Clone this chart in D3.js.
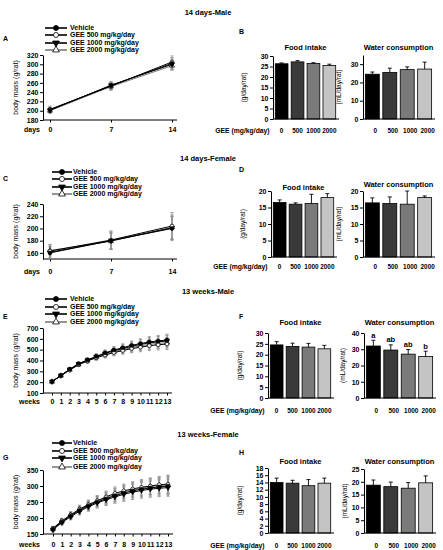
<!DOCTYPE html>
<html><head><meta charset="utf-8">
<script src="https://cdn.jsdelivr.net/npm/d3@7"></script>
<style>
body{margin:0;background:#fff}
text{font-family:"Liberation Sans",Arial,Helvetica,sans-serif}
</style></head><body>
<svg id="c" width="443" height="550"></svg>
<script>
// ---------- DATA ----------
const groupNames = ["Vehicle","GEE 500 mg/kg/day","GEE 1000 mg/kg/day","GEE 2000 mg/kg/day"];
const doses = ["0","500","1000","2000"];
const days = [0,7,14];
const weeks = [0,1,2,3,4,5,6,7,8,9,10,11,12,13];

// A: 14 days male body mass
const A_ticks = [180,200,220,240,260,280,300,320];
const A_vehicle = [202,254,302];
const A_500 = [203,253,305];
const A_1000 = [201,255,300];
const A_2000 = [200,252,297];
const A_err = [[6,8,12],[7,8,13],[6,7,11],[5,8,10]];

// B: 14 days male intake
const B_food = [26.3,27.2,26.4,25.5];
const B_foodErr = [0.4,0.6,0.4,0.6];
const B_water = [24.5,25.5,27.0,27.3];
const B_waterErr = [1.2,2.3,1.5,3.8];

// C: 14 days female body mass
const C_ticks = [160,180,200,220,240];
const C_vehicle = [160,180,200];
const C_500 = [163,181,204];
const C_1000 = [161,180,201];
const C_2000 = [164,179,202];
const C_err = [[10,14,20],[11,15,22],[10,14,18],[9,13,20]];

// D: 14 days female intake
const D_food = [16.5,16.0,16.2,18.0];
const D_foodErr = [0.8,0.4,2.8,1.2];
const D_water = [16.4,16.2,16.0,18.0];
const D_waterErr = [1.5,2.0,4.0,0.5];

// E: 13 weeks male body mass
const E_ticks = [100,200,300,400,500,600,700];
const E_vehicle = [205,262,320,370,405,438,470,497,518,540,556,572,580,590];
const E_500 = [205,258,312,360,395,425,450,473,492,510,523,537,545,552];
const E_1000 = [206,262,318,368,402,435,465,490,510,530,548,563,572,580];
const E_2000 = [204,260,315,363,398,430,457,480,500,520,535,550,558,565];
const E_err = [
  [6,8,12,16,20,24,28,32,36,40,44,48,50,52],
  [6,8,11,15,19,23,27,30,34,38,42,45,47,50],
  [6,8,12,16,20,24,28,32,36,40,44,47,50,52],
  [6,8,12,15,19,23,27,31,35,39,42,46,48,50]];

// F: 13 weeks male intake
const F_food = [24.5,23.8,23.5,22.7];
const F_foodErr = [1.5,1.5,1.7,1.6];
const F_water = [32.0,29.5,27.0,25.5];
const F_waterErr = [3.5,3.2,2.8,3.3];
const F_letters = ["a","ab","ab","b"];

// G: 13 weeks female body mass
const G_ticks = [150,200,250,300,350];
const G_vehicle = [165,188,207,224,238,250,260,270,278,285,290,294,297,300];
const G_500 = [168,191,210,228,242,254,266,277,285,291,296,300,304,306];
const G_1000 = [163,186,204,221,235,247,257,266,274,281,286,290,293,295];
const G_2000 = [166,189,208,226,240,252,263,273,281,288,293,298,301,303];
const G_err = [
  [6,8,10,12,14,16,18,20,22,22,24,25,26,28],
  [6,8,10,12,14,16,18,20,21,22,24,25,26,28],
  [6,8,10,12,14,16,18,20,22,23,24,25,26,27],
  [6,8,10,12,14,16,18,20,21,22,24,25,26,28]];

// H: 13 weeks female intake
const H_food = [14.0,13.8,13.1,13.8];
const H_foodErr = [1.2,0.8,1.7,1.4];
const H_water = [18.7,18.1,17.5,19.6];
const H_waterErr = [2.0,1.8,2.2,2.7];

// ---------- DRAWING ----------
const svg = d3.select("#c");
const FONT = "Liberation Sans, Arial, sans-serif";
const styles = [
  {line:"#000", fill:"#000", sym:d3.symbolCircle, rot:0},
  {line:"#000", fill:"#fff", sym:d3.symbolCircle, rot:0},
  {line:"#000", fill:"#000", sym:d3.symbolTriangle, rot:180},
  {line:"#7a7a7a", fill:"#fff", sym:d3.symbolTriangle, rot:0}
];
const barColors = ["#000000","#3a3a3a","#7a7a7a","#c4c4c4"];

function styleAxis(sel){
  sel.selectAll("path.domain").attr("stroke","#000").attr("stroke-width",1);
  sel.selectAll(".tick line").attr("stroke","#000").attr("stroke-width",1);
  sel.selectAll(".tick text").attr("font-size",7).attr("font-weight","bold")
    .attr("font-family",FONT).attr("fill","#000");
}

function txt(g,x,y,s,opt){
  opt = opt||{};
  return g.append("text").attr("x",x).attr("y",y).attr("dy","0.35em")
    .attr("text-anchor",opt.anchor||"start")
    .attr("font-size",opt.size||7).attr("font-weight",opt.weight||"bold")
    .attr("font-family",FONT).attr("fill","#000").text(s);
}

function linePanel(c){
  const g = svg.append("g");
  const x = d3.scaleLinear().domain([c.xVals[0], c.xVals[c.xVals.length-1]]).range(c.xRange);
  const y = d3.scaleLinear().domain(c.yDomain).range(c.yRange);
  const ya = g.append("g").attr("transform",`translate(${c.axisX},0)`)
    .call(d3.axisLeft(y).tickValues(c.yTicks).tickSize(3).tickPadding(1.5).tickSizeOuter(0));
  styleAxis(ya);
  const xa = g.append("g").attr("transform",`translate(0,${c.yRange[0]})`)
    .call(d3.axisBottom(x).tickValues(c.xVals).tickSize(2.5).tickPadding(c.labelY-5-c.yRange[0]).tickSizeOuter(0));
  xa.select(".domain").remove();
  styleAxis(xa);
  g.append("line").attr("x1",c.axisX).attr("x2",c.xRange[1]+5)
    .attr("y1",c.yRange[0]).attr("y2",c.yRange[0]).attr("stroke","#000").attr("stroke-width",1);

  const order = [3,2,1,0];
  order.forEach(i=>{
    const vals = c.series[i], errs = c.errs[i];
    vals.forEach((v,j)=>{
      const cx = x(c.xVals[j]);
      const e = errs[j];
      g.append("line").attr("x1",cx).attr("x2",cx).attr("y1",y(v-e)).attr("y2",y(v+e))
        .attr("stroke","#8c8c8c").attr("stroke-width",0.8);
      [v-e,v+e].forEach(t=>g.append("line").attr("x1",cx-1.6).attr("x2",cx+1.6)
        .attr("y1",y(t)).attr("y2",y(t)).attr("stroke","#8c8c8c").attr("stroke-width",0.8));
    });
  });
  order.forEach(i=>{
    g.append("path").datum(c.series[i])
      .attr("d", d3.line().x((d,j)=>x(c.xVals[j])).y(d=>y(d)))
      .attr("fill","none").attr("stroke",styles[i].line).attr("stroke-width",1);
  });
  order.forEach(i=>{
    const st = styles[i];
    c.series[i].forEach((v,j)=>{
      g.append("path").attr("d",d3.symbol().type(st.sym).size(11)())
        .attr("transform",`translate(${x(c.xVals[j])},${y(v)}) rotate(${st.rot})`)
        .attr("fill",st.fill).attr("stroke","#000").attr("stroke-width",0.7);
    });
  });
  groupNames.forEach((n,i)=>{
    const ly = c.legRows[i], st = styles[i];
    g.append("line").attr("x1",c.legLine[0]).attr("x2",c.legLine[1]).attr("y1",ly).attr("y2",ly)
      .attr("stroke",st.line).attr("stroke-width",1.6);
    g.append("path").attr("d",d3.symbol().type(st.sym).size(20)())
      .attr("transform",`translate(${c.legMarker},${ly}) rotate(${st.rot})`)
      .attr("fill",st.fill).attr("stroke","#000").attr("stroke-width",0.8);
    txt(g,c.legText,ly,n);
  });
  txt(g,40,c.labelY,c.xName,{anchor:"end"});
  txt(g,3,c.letterY,c.letter);
  txt(g,208,c.titleY,c.title,{anchor:"middle",size:7.5});
  g.append("text").attr("transform",`translate(16,${(c.yRange[0]+c.yRange[1])/2}) rotate(-90)`)
    .attr("dy","0.35em").attr("text-anchor","middle").attr("font-size",7)
    .attr("font-family",FONT).attr("fill","#000").text("body mass (g/rat)");
}

function barSub(g, p, s){
  const y = d3.scaleLinear().domain(s.domain).range(s.range);
  const x = d3.scaleBand().domain(doses).range([s.axisX+1.5, s.axisX+1.5+s.width])
    .paddingInner(0.2).paddingOuter(0.05);
  const ya = g.append("g").attr("transform",`translate(${s.axisX},0)`)
    .call(d3.axisLeft(y).tickValues(s.ticks).tickSize(3).tickPadding(1.5).tickSizeOuter(0));
  styleAxis(ya);
  const bw = x.bandwidth();
  s.vals.forEach((v,i)=>{
    const d = doses[i];
    g.append("rect").attr("x",x(d)).attr("y",y(v)).attr("width",bw).attr("height",y(0)-y(v))
      .attr("fill",barColors[i]).attr("stroke","#000").attr("stroke-width",0.8);
    const cx = x(d)+bw/2, top = y(v+s.errs[i]);
    g.append("line").attr("x1",cx).attr("x2",cx).attr("y1",y(v)).attr("y2",top)
      .attr("stroke","#000").attr("stroke-width",0.9);
    g.append("line").attr("x1",cx-2).attr("x2",cx+2).attr("y1",top).attr("y2",top)
      .attr("stroke","#000").attr("stroke-width",0.9);
    if (s.letters) txt(g,cx,top-5,s.letters[i],{anchor:"middle",size:7.5});
    txt(g,cx+s.labOff,p.labelY,d,{anchor:"middle",size:6.4});
  });
  g.append("line").attr("x1",s.axisX).attr("x2",s.axisX+s.width+4)
    .attr("y1",y(0)).attr("y2",y(0)).attr("stroke","#000").attr("stroke-width",1);
  txt(g,s.axisX+1.5+s.width/2,s.titleY,s.title,{anchor:"middle",size:7.5});
  g.append("text").attr("transform",`translate(${s.labelX},${(s.range[0]+s.range[1])/2}) rotate(-90)`)
    .attr("dy","0.35em").attr("text-anchor","middle").attr("font-size",6.5)
    .attr("font-family",FONT).attr("fill","#000").text(s.ylab);
  return x;
}

function barPanel(p){
  const g = svg.append("g");
  txt(g,239,p.letterY,p.letter);
  const xf = barSub(g,p,Object.assign({title:"Food intake",ylab:"(g/day/rat)",width:62,labOff:0},p.food));
  barSub(g,p,Object.assign({title:"Water consumption",ylab:"(mL/day/rat)",width:68,labOff:3},p.water));
  txt(g,xf(doses[0])+xf.bandwidth()/2-12,p.labelY,"GEE (mg/kg/day)",{anchor:"end",size:6.8});
}

linePanel({title:"14 days-Male",titleY:12,letter:"A",letterY:39,xName:"days",
  xVals:days,xRange:[50,172],yDomain:[180,320],yRange:[120,55],yTicks:A_ticks,axisX:43,labelY:130,
  series:[A_vehicle,A_500,A_1000,A_2000],errs:A_err,
  legRows:[28,35,43,50],legLine:[45,67],legMarker:56,legText:70});
barPanel({letter:"B",letterY:32,labelY:131,
  food:{vals:B_food,errs:B_foodErr,axisX:273,domain:[0,30],range:[119,56],ticks:[0,5,10,15,20,25,30],labelX:244,titleY:47},
  water:{vals:B_water,errs:B_waterErr,axisX:363,domain:[0,35],range:[119,55],ticks:[0,10,20,30],labelX:339,titleY:47}});

linePanel({title:"14 days-Female",titleY:158,letter:"C",letterY:179,xName:"days",
  xVals:days,xRange:[50,172],yDomain:[150,240],yRange:[259,204],yTicks:C_ticks,axisX:43,labelY:272,
  series:[C_vehicle,C_500,C_1000,C_2000],errs:C_err,
  legRows:[172,179,187,194],legLine:[52,72],legMarker:62,legText:73});
barPanel({letter:"D",letterY:170,labelY:267,
  food:{vals:D_food,errs:D_foodErr,axisX:271,domain:[0,20],range:[257,191],ticks:[0,5,10,15,20],labelX:243,titleY:187},
  water:{vals:D_water,errs:D_waterErr,axisX:363,domain:[0,20],range:[257,191],ticks:[0,5,10,15,20],labelX:339,titleY:184}});

linePanel({title:"13 weeks-Male",titleY:291,letter:"E",letterY:317,xName:"weeks",
  xVals:weeks,xRange:[52,167],yDomain:[100,700],yRange:[393,328],yTicks:E_ticks,axisX:43,labelY:402,
  series:[E_vehicle,E_500,E_1000,E_2000],errs:E_err,
  legRows:[299,307,314,322],legLine:[45,67],legMarker:56,legText:70});
barPanel({letter:"F",letterY:317,labelY:411,
  food:{vals:F_food,errs:F_foodErr,axisX:268,domain:[0,30],range:[398,333],ticks:[0,5,10,15,20,25,30],labelX:240,titleY:322},
  water:{vals:F_water,errs:F_waterErr,axisX:364,domain:[0,40],range:[398,333],ticks:[0,10,20,30,40],labelX:343,titleY:322,letters:F_letters}});

linePanel({title:"13 weeks-Female",titleY:434,letter:"G",letterY:458,xName:"weeks",
  xVals:weeks,xRange:[53,168],yDomain:[150,350],yRange:[534,470],yTicks:G_ticks,axisX:43,labelY:545,
  series:[G_vehicle,G_500,G_1000,G_2000],errs:G_err,
  legRows:[443,451,458,467],legLine:[52,72],legMarker:62,legText:73});
barPanel({letter:"H",letterY:453,labelY:546,
  food:{vals:H_food,errs:H_foodErr,axisX:268,domain:[0,18],range:[533,468],ticks:[0,2,4,6,8,10,12,14,16,18],labelX:240,titleY:461},
  water:{vals:H_water,errs:H_waterErr,axisX:364,domain:[0,25],range:[533,469],ticks:[0,5,10,15,20,25],labelX:345,titleY:461}});
</script>
</body></html>
